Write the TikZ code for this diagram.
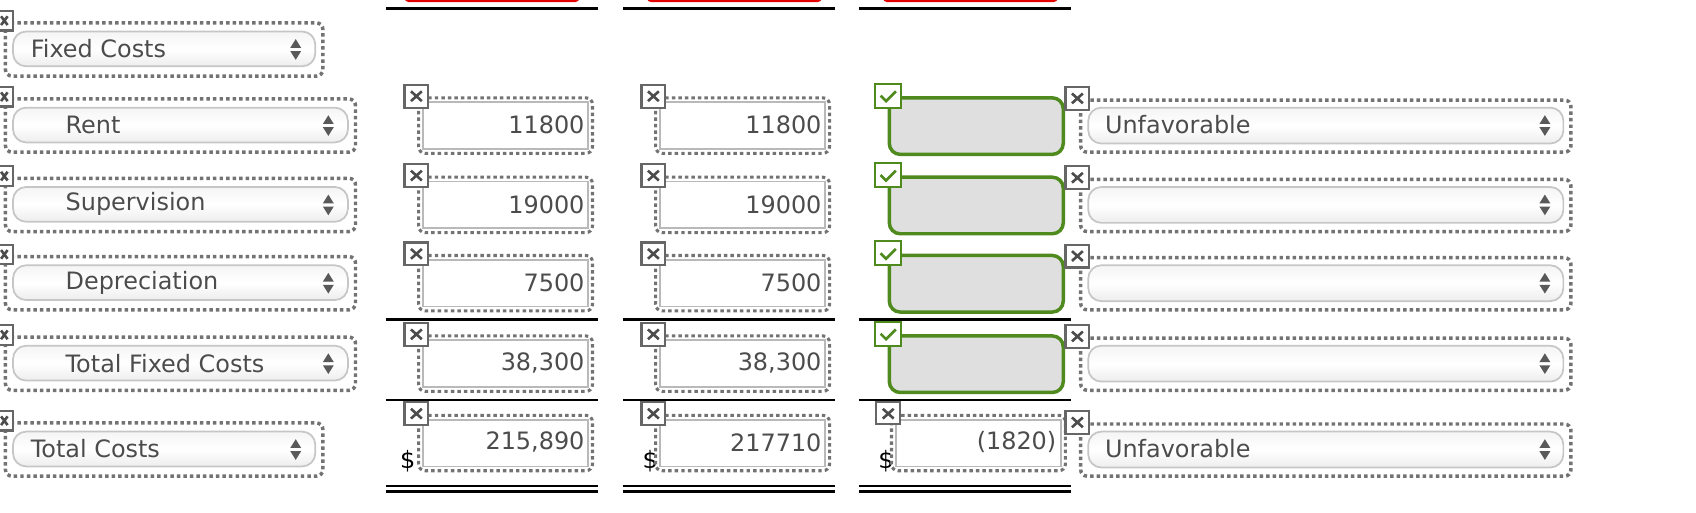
\documentclass[tikz,border=0pt]{standalone}
\usepackage{fontspec}
\setmainfont{DejaVu Sans}
\definecolor{okgreen}{HTML}{4E8A1E}
\begin{document}
\begin{tikzpicture}[x=0.5pt,y=-0.5pt,
  font=\fontsize{11}{12}\selectfont,
  outerbox/.style={draw=gray!90!black,line width=1.6pt,dash pattern=on 1.6pt off 1.4pt,rounded corners=3pt},
  inbtn/.style={draw=gray!45,line width=0.8pt,rounded corners=6pt,top color=gray!8,bottom color=gray!14,middle color=white},
  numbox/.style={draw=gray!55,line width=0.8pt,fill=white},
  greenbox/.style={draw=okgreen,line width=1.6pt,rounded corners=5pt,fill=gray!25},
  xicon/.style={draw=gray!80!black,line width=1pt,fill=white},
  txt/.style={text=black!70,inner sep=0pt},
  rule/.style={line width=1.2pt}]
\useasboundingbox (0,0) rectangle (1560,471);
% top rules
\foreach \a/\b/\r in {355/550/372, 573/768/595, 790/985/812}{
  \fill[red!90!black,rounded corners=2pt] (\r,-6) rectangle (\r+161,2);
  \draw[rule] (\a,8) -- (\b,8);
  \draw[rule] (\a,294) -- (\b,294);
  \draw[rule] (\a,368) -- (\b,368);
  \draw[rule] (\a,447) -- (\b,447);
  \draw[rule] (\a,452) -- (\b,452);
  \node[font=\fontsize{11}{12}\selectfont,inner sep=0pt] at (\r+3,424) {\$};
}
% left dropdowns
\foreach \y/\w/\tx/\t [count=\i] in {45/297/28/Fixed Costs, 115/327/60/Rent, 188/327/60/Supervision, 260/327/60/Depreciation, 334/327/60/Total Fixed Costs, 413/297/28/Total Costs}{
  \draw[outerbox] (5,\y-24) rectangle (\w,\y+25);
  \draw[inbtn] (12,\y-16) rectangle (\w-7,\y+16);
  \node[txt,anchor=west] (L\i) at (\tx,\y) {\t};
  \fill[black!65] (\w-25,\y-9) -- (\w-20,\y-1) -- (\w-30,\y-1) -- cycle;
  \fill[black!65] (\w-25,\y+10) -- (\w-20,\y+2) -- (\w-30,\y+2) -- cycle;
  \draw[xicon] (-2,\y-35) rectangle (12,\y-17);
  \draw[black!70,line width=1.2pt] (1,\y-30) -- (7,\y-22) (7,\y-30) -- (1,\y-22);
}
% number columns
\foreach \y/\va/\vb [count=\i] in {115/11800/11800, 188/19000/19000, 260/7500/7500, 334/{38,300}/{38,300}, 407/{215,890}/217710}{
  \foreach \x/\v/\c in {385/\va/a, 603/\vb/b}{
    \draw[outerbox,line width=1.4pt] (\x,\y-25) rectangle (\x+160,\y+26);
    \draw[numbox] (\x+4,\y-21) rectangle (\x+156,\y+22);
    \node[txt,anchor=east] (N\c\i) at (\x+153,\y) {\v};
    \draw[xicon] (\x-13,\y-37) rectangle (\x+9,\y-16);
    \draw[black!70,line width=1.2pt] (\x-7,\y-31) -- (\x+3,\y-22) (\x+3,\y-31) -- (\x-7,\y-22);
  }
}
% green boxes
\foreach \y [count=\i] in {115,188,260,334}{
  \draw[greenbox] (818,\y-25) rectangle (978,\y+27);
  \draw[draw=okgreen,line width=1pt,fill=white] (805,\y-38) rectangle (829,\y-16);
  \draw[okgreen,line width=1.2pt] (810,\y-27) -- (815,\y-22) -- (824,\y-31);
}
% last col3
\draw[outerbox,line width=1.4pt] (820,382) rectangle (980,433);
\draw[numbox] (824,386) rectangle (976,429);
\node[txt,anchor=east] (Nc5) at (972,407) {(1820)};
\draw[xicon] (806,370) rectangle (828,390);
\draw[black!70,line width=1.2pt] (812,376) -- (822,385) (822,376) -- (812,385);
% right dropdowns
\foreach \y/\t [count=\i] in {115/Unfavorable, 188/{}, 260/{}, 334/{}, 413/Unfavorable}{
  \draw[outerbox] (994,\y-23) rectangle (1445,\y+25);
  \draw[inbtn] (1001,\y-16) rectangle (1438,\y+17);
  \node[txt,anchor=west] (R\i) at (1016,\y) {\t};
  \fill[black!65] (1421,\y-9) -- (1426,\y-1) -- (1416,\y-1) -- cycle;
  \fill[black!65] (1421,\y+10) -- (1426,\y+2) -- (1416,\y+2) -- cycle;
  \draw[xicon] (980,\y-35) rectangle (1002,\y-14);
  \draw[black!70,line width=1.2pt] (986,\y-29) -- (996,\y-20) (996,\y-29) -- (986,\y-20);
}
\end{tikzpicture}
\end{document}
